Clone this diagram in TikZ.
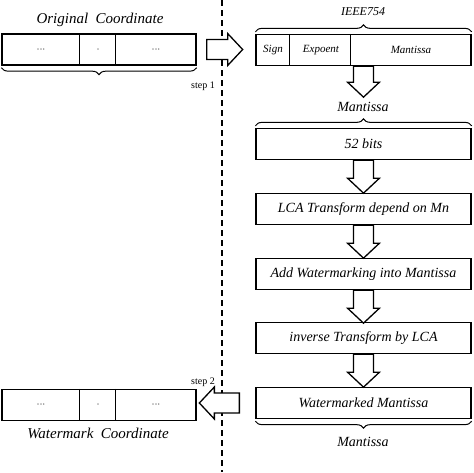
\documentclass[tikz,border=0pt]{standalone}
\usepackage{fontspec}
\setmainfont{Liberation Serif}
\usetikzlibrary{decorations.pathreplacing,calc}
\tikzset{
 box/.style={draw,line width=1.3pt,minimum height=31pt,inner sep=0pt,font=\itshape\fontsize{14}{16}\selectfont},
 stepbox/.style={box,minimum width=215pt},
 coordbox/.style={box,minimum width=194pt},
 brc/.style={decorate,decoration={brace,amplitude=7pt},line width=1pt},
 arr/.style={draw,fill=white,line width=1.3pt,line join=miter},
 pics/barrow/.style={code={\path[arr] (0,-10)--(#1-15,-10)--(#1-15,-16)--(#1,0)--(#1-15,16)--(#1-15,10)--(0,10)--cycle;}},
 lbl/.style={font=\itshape\fontsize{14}{16}\selectfont},
 small/.style={font=\itshape\fontsize{11}{13}\selectfont},
 dots/.style={font=\fontsize{9}{10}\selectfont},
 steplbl/.style={font=\fontsize{10}{12}\selectfont},
 divider/.style={line width=1.3pt}
}
\begin{document}
\begin{tikzpicture}[x=1pt,y=1pt]
\useasboundingbox (0,0) rectangle (474,-472);
% dashed separator
\draw[line width=1.2pt,dash pattern=on 6pt off 4pt] (222,0) -- (222,-472);

% original coordinate
\node[lbl,font=\itshape\fontsize{15}{17}\selectfont] (origlbl) at (100,-20) {Original\ \ Coordinate};
\node[coordbox] (orig) at (99,-49.5) {};
\draw[divider] ($(orig.north west)+(78,0)$) -- ($(orig.south west)+(78,0)$);
\draw[divider] ($(orig.north west)+(114,0)$) -- ($(orig.south west)+(114,0)$);
\node[dots] (o1) at (41,-51) {···};
\node[dots] (o2) at (98,-51) {·};
\node[dots] (o3) at (156,-51) {···};
\draw[brc] ($(orig.south east)+(0,-2)$) -- ($(orig.south west)+(0,-2)$);
\node[steplbl] (s1) at (203,-86) {step 1};

% IEEE754
\node[font=\itshape\fontsize{12}{14}\selectfont] (ieeelbl) at (363,-12) {IEEE754};
\node[stepbox] (ieee) at (363.5,-50) {};
\draw[brc] ($(ieee.north west)+(0,2)$) -- ($(ieee.north east)+(0,2)$);
\draw[divider] ($(ieee.north west)+(34,0)$) -- ($(ieee.south west)+(34,0)$);
\draw[divider] ($(ieee.north west)+(95,0)$) -- ($(ieee.south west)+(95,0)$);
\node[small] (sign) at (273,-50) {Sign};
\node[small] (expo) at (321,-50) {Expoent};
\node[small] (mant) at (411,-50) {Mantissa};

\pic at ($(orig.east)+(10,0)$) {barrow=36};

\pic[rotate=-90] at (ieee.south) {barrow=31};
\node[lbl] (mlbl) at (363,-107) {Mantissa};

\node[stepbox] (bits) at (363.5,-144) {52 bits};
\draw[brc] ($(bits.north west)+(0,2)$) -- ($(bits.north east)+(0,2)$);
\node[stepbox] (lca) at (363.5,-209) {LCA Transform depend on Mn};
\node[stepbox] (add) at (363.5,-274) {Add Watermarking into Mantissa};
\node[stepbox] (inv) at (363.5,-338) {inverse Transform by LCA};
\node[stepbox] (wm) at (363.5,-403) {Watermarked Mantissa};
\draw[brc] ($(wm.south east)+(0,-2)$) -- ($(wm.south west)+(0,-2)$);
\node[lbl] (mlbl2) at (363,-442) {Mantissa};

\pic[rotate=-90] at (bits.south) {barrow=33};
\pic[rotate=-90] at (lca.south) {barrow=33};
\pic[rotate=-90] at (add.south) {barrow=33};
\pic[rotate=-90] at (inv.south) {barrow=33};

% watermark coordinate
\node[coordbox] (wc) at (99,-405) {};
\draw[divider] ($(wc.north west)+(78,0)$) -- ($(wc.south west)+(78,0)$);
\draw[divider] ($(wc.north west)+(114,0)$) -- ($(wc.south west)+(114,0)$);
\node[dots] (w1) at (41,-406) {···};
\node[dots] (w2) at (98,-406) {·};
\node[dots] (w3) at (156,-406) {···};
\node[lbl,font=\itshape\fontsize{15}{17}\selectfont] (wclbl) at (98,-433) {Watermark\ \ Coordinate};
\node[steplbl] (s2) at (203,-382) {step 2};
\pic[rotate=180] at ($(wm.west)+(-16,0)$) {barrow=40};
\end{tikzpicture}
\end{document}
